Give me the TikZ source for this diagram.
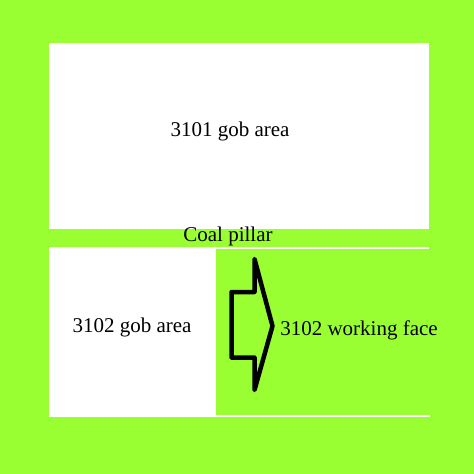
\documentclass[tikz,border=0pt]{standalone}
\usepackage{fontspec}
\setmainfont{Liberation Serif}
\definecolor{bggreen}{RGB}{153,255,51}
\begin{document}
\begin{tikzpicture}[x=1pt,y=-1pt,
  lbl/.style={font=\fontsize{21}{24}\selectfont, anchor=base, inner sep=0pt, text=black},
  area/.style={fill=white, draw=none},
  edge/.style={draw=white, line width=2pt},
  arrowshape/.style={draw=black, line width=4.5pt, line join=round, fill=none}]
\fill[bggreen] (0,0) rectangle (474,474);
\useasboundingbox (0,0) rectangle (474,474);
% areas
\path[area] (49,43) rectangle (429,229);
\path[area] (49,247) rectangle (216,417);
\draw[edge] (216,248) -- (429,248);
\draw[edge] (216,415.5) -- (430,415.5);
% advance arrow
\draw[arrowshape] (254.5,259) -- (272.5,326) -- (254.5,390) -- (254.5,357.5) -- (231.5,357.5) -- (231.5,292) -- (254.5,292) -- cycle;
% labels
\node[lbl] (g3101) at (230,136) {3101 gob area};
\node[lbl] (pillar) at (228,241) {Coal pillar};
\node[lbl] (g3102) at (132,332) {3102 gob area};
\node[lbl] (wf) at (359,335) {3102 working face};
\end{tikzpicture}
\end{document}
